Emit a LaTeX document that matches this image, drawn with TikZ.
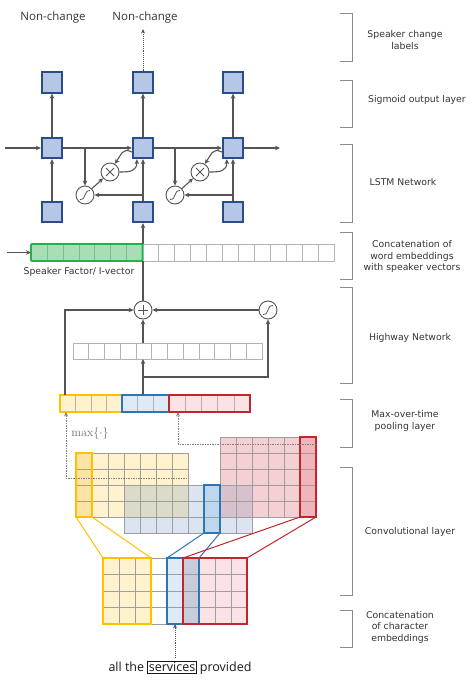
\documentclass[tikz,border=0pt]{standalone}
\usepackage[no-math]{fontspec}
\setmainfont{DejaVu Sans}
\newfontfamily\topfont{Open Sans}
\usetikzlibrary{arrows.meta,calc}
\definecolor{sqfill}{HTML}{B4C7E7}
\definecolor{sqdraw}{HTML}{2B4C86}
\definecolor{arr}{HTML}{555555}
\definecolor{ybord}{HTML}{FFC000}
\definecolor{yfill}{HTML}{FFF2CC}
\definecolor{ydeep}{HTML}{FDE3A6}
\definecolor{bbord}{HTML}{2E75B6}
\definecolor{bfill}{HTML}{DDEBF7}
\definecolor{bconv}{HTML}{DCE4F2}
\definecolor{bdeep}{HTML}{BDD7EE}
\definecolor{rbord}{HTML}{C0262D}
\definecolor{rfill}{HTML}{FBE3E5}
\definecolor{rconv}{HTML}{F4CFD3}
\definecolor{rdeep}{HTML}{EFB5BB}
\definecolor{gbord}{HTML}{22B14C}
\definecolor{gfill}{HTML}{A8DDB5}
\definecolor{gcell}{HTML}{74C08A}
\definecolor{gridc}{HTML}{9E9E9E}
\definecolor{lcell}{HTML}{B3B3B3}
\definecolor{brk}{HTML}{8C8C8C}
\definecolor{txt}{HTML}{333333}
\definecolor{ybov}{HTML}{DADBC8}
\definecolor{rbov}{HTML}{D7C1CC}
\definecolor{embov}{HTML}{C8CCDA}
\begin{document}
\begin{tikzpicture}[x=1pt,y=-1pt,
  sq/.style={draw=sqdraw,fill=sqfill,line width=1.8pt,minimum size=20.5pt,inner sep=0pt},
  op/.style={circle,draw=arr,fill=white,line width=0.9pt,minimum size=18pt,inner sep=0pt},
  sig/.style={op,path picture={\draw[arr,line width=0.8pt]
     ([shift={(-5pt,-4.5pt)}]path picture bounding box.center) .. controls +(7pt,0pt) and +(-7pt,0pt) ..
     ([shift={(5pt,4.5pt)}]path picture bounding box.center);}},
  tms/.style={op,path picture={\draw[arr,line width=0.8pt]
     ([shift={(-4pt,-4pt)}]path picture bounding box.center) -- ([shift={(4pt,4pt)}]path picture bounding box.center)
     ([shift={(-4pt,4pt)}]path picture bounding box.center) -- ([shift={(4pt,-4pt)}]path picture bounding box.center);}},
  pls/.style={op,path picture={\draw[arr,line width=0.8pt]
     ([shift={(-5pt,0pt)}]path picture bounding box.center) -- ([shift={(5pt,0pt)}]path picture bounding box.center)
     ([shift={(0pt,-5pt)}]path picture bounding box.center) -- ([shift={(0pt,5pt)}]path picture bounding box.center);}},
  ar/.style={draw=arr,line width=1.1pt,-{Stealth[length=5pt,width=4.6pt]}},
  ln/.style={draw=arr,line width=1.1pt},
  dar/.style={draw=gray,line width=0.7pt,dash pattern=on 1.5pt off 1pt,-{Stealth[length=4.5pt,width=4pt]}},
  dotar/.style={draw=arr,line width=0.9pt,dash pattern=on 0.9pt off 1pt,-{Stealth[length=4.5pt,width=4pt]}},
  brack/.style={draw=brk,line width=0.9pt},
  lay/.style={font=\fontsize{9.3}{11.5}\selectfont,text=txt,align=center},
  toplbl/.style={font=\topfont\fontsize{11.5}{13}\selectfont,text=txt},
  cell/.style={draw=gridc,line width=0.6pt},
  lcellst/.style={draw=lcell,line width=0.6pt},
  box/.style={inner sep=0pt,outer sep=0pt},
]
\useasboundingbox (0,0) rectangle (474,686);

% ---------------- LSTM ----------------
\node[toplbl] (nc1) at (53,18) {Non-change};
\node[toplbl] (nc2) at (145,18) {Non-change};
\foreach \n/\x in {1/52,2/143,3/233}{
  \node[sq] (t\n) at (\x,82.5) {};
  \node[sq] (m\n) at (\x,148) {};
  \node[sq] (b\n) at (\x,212) {};
  \draw[ar] (b\n.north) -- (m\n.south);
  \draw[ar] (m\n.north) -- (t\n.south);
}
\coordinate (topend) at (143,29);
\draw[dotar] (t2.north) -- (topend);
\coordinate (hin) at (5,148);
\coordinate (hout) at (280,148);
\draw[ar] (hin) -- (m1.west);
\draw[ar] (m1.east) -- (m2.west);
\draw[ar] (m2.east) -- (m3.west);
\draw[ar] (m3.east) -- (hout);

\foreach \k/\sx/\tx/\nm in {1/85/110/m2,2/175/200/m3}{
  \node[sig] (s\k) at (\sx,195) {};
  \node[tms] (x\k) at (\tx,172) {};
  \coordinate (d\k) at (\sx,148);
  \draw[ar] (d\k) -- (s\k.north);
  \draw[ar] (s\k) -- (x\k);
  \draw[ar] (\nm |- s\k.east) -- (s\k.east);
  \draw[ar] (x\k.east) .. controls +(11,0) and +(0,12) .. ([xshift=5pt]\nm.south west);
  \draw[ar] ([yshift=-4pt]\nm.west) .. controls +(-10,-5) and +(6,-8) .. (x\k.60);
}

% ---------------- concatenation bar ----------------
\foreach \i in {7,...,18} \draw[lcellst] ({31+\i*15.947},244) rectangle ++(15.947,17);
\foreach \i in {0,...,6} \draw[draw=gcell,fill=gfill,line width=0.6pt] ({31+\i*15.947},244) rectangle ++(15.947,17);
\node[box,minimum width=303pt,minimum height=17pt] (cb) at (182.5,252.5) {};
\node[box,draw=gbord,line width=1.8pt,rounded corners=1pt,minimum width=111.6pt,minimum height=17pt] (gb) at (86.8,252.5) {};
\coordinate (gin) at (7,252.5);
\draw[ar] (gin) -- (gb.west);
\node[lay] (spk) at (79,271.5) {Speaker Factor/ I-vector};
\draw[ar] (b2 |- cb.north) -- (b2.south);

% ---------------- highway ----------------
\node[pls] (pl) at (143,310) {};
\node[sig] (hs) at (268,310) {};
\foreach \i in {0,...,11} \draw[lcellst] ({73+\i*15.75},343) rectangle ++(15.75,16);
\node[box,minimum width=189pt,minimum height=16pt] (hw) at (167.5,351) {};
\draw[ln] (pl.north) -- (pl |- cb.south);
\draw[ar] (pl |- hw.north) -- (pl.south);
\draw[ar] (hs.west) -- (pl.east);

% ---------------- pooling bar ----------------
\foreach \i in {0,...,3} \draw[lcellst,fill=yfill] ({60+\i*15.5},395) rectangle ++(15.5,17);
\foreach \i in {0,...,2} \draw[lcellst,fill=bfill] ({122+\i*15.667},395) rectangle ++(15.667,17);
\foreach \i in {0,...,4} \draw[lcellst,fill=rfill] ({169+\i*16.2},395) rectangle ++(16.2,17);
\node[box,draw=ybord,line width=1.6pt,minimum width=62pt,minimum height=17pt] (py) at (91,403.5) {};
\node[box,draw=bbord,line width=1.6pt,minimum width=47pt,minimum height=17pt] (pb) at (145.5,403.5) {};
\node[box,draw=rbord,line width=1.6pt,minimum width=81pt,minimum height=17pt] (pr) at (209.5,403.5) {};
\coordinate (pyl) at (65,395);
\draw[ar] (pyl) |- (pl.west);
\draw[ar] (pl |- pb.north) -- (pl |- hw.south);
\coordinate (hbr) at (143,377);
\draw[ar] (hbr) -| (hs.south);

% ---------------- convolution ----------------
\fill[yfill] (76,453) rectangle (188,517);
\fill[bconv] (124,485) rectangle (252,533);
\fill[ybov] (124,485) rectangle (188,517);
\fill[rconv] (220,437) rectangle (316,517);
\fill[rbov] (220,485) rectangle (252,517);
\fill[ydeep] (76,453) rectangle (92,517);
\fill[bdeep] (204,485) rectangle (220,533);
\fill[rdeep] (300,437) rectangle (316,517);
\foreach \i in {0,...,6} \foreach \j in {0,...,3} \draw[cell] ({76+16*\i},{453+16*\j}) rectangle ++(16,16);
\foreach \i in {0,...,7} \foreach \j in {0,...,2} \draw[cell] ({124+16*\i},{485+16*\j}) rectangle ++(16,16);
\foreach \i in {0,...,5} \foreach \j in {0,...,4} \draw[cell] ({220+16*\i},{437+16*\j}) rectangle ++(16,16);
\node[box,draw=ybord,line width=1.6pt,minimum width=16pt,minimum height=64pt] (yc) at (84,485) {};
\node[box,draw=bbord,line width=1.6pt,minimum width=16pt,minimum height=48pt] (bc) at (212,509) {};
\node[box,draw=rbord,line width=1.6pt,minimum width=16pt,minimum height=80pt] (rc) at (308,477) {};

\coordinate (ydl) at (187,478);
\coordinate (pyb) at (66,412);
\draw[dar] (ydl) -| (pyb);
\coordinate (rdl) at (316,444);
\coordinate (prb) at (178,412);
\draw[dar] (rdl) -| (prb);
\node[text=gray!85!black,font=\fontsize{11.5}{13}\selectfont] (mx) at (90,433) {$\max\{\cdot\}$};

% ---------------- character embeddings ----------------
\fill[yfill] (103,558) rectangle (151,624);
\fill[bfill] (167,558) rectangle (199,624);
\fill[rfill] (183,558) rectangle (247,624);
\fill[embov] (183,558) rectangle (199,624);
\foreach \i in {0,...,8} \foreach \j in {0,...,3} \draw[cell] ({103+16*\i},{558+16.5*\j}) rectangle ++(16,16.5);
\node[box,draw=ybord,line width=1.6pt,minimum width=48pt,minimum height=66pt] (ye) at (127,591) {};
\node[box,draw=bbord,line width=1.6pt,minimum width=32pt,minimum height=66pt] (be) at (183,591) {};
\node[box,draw=rbord,line width=1.6pt,minimum width=64pt,minimum height=66pt] (re) at (215,591) {};

\draw[ybord,line width=1pt] (yc.south west) -- (ye.north west);
\draw[ybord,line width=1pt] (yc.south east) -- (ye.north east);
\draw[bbord,line width=1pt] (bc.south west) -- (be.north west);
\draw[bbord,line width=1pt] (bc.south east) -- (be.north east);
\draw[rbord,line width=1pt] (rc.south west) -- (re.north west);
\draw[rbord,line width=1pt] (rc.south east) -- (re.north east);

\node[toplbl,font=\topfont\fontsize{12.5}{14}\selectfont,text=black!90] (words) at (180,668)
  {all the {\fboxsep=0.8pt\fboxrule=0.6pt\fbox{services}} provided};
\coordinate (ecol) at (175,624);
\draw[dotar] (ecol |- words.north) -- (ecol);

% ---------------- brackets and labels ----------------
\foreach \a/\b in {13/61,80/127,144/222,232/279,287/383,399/447,467/595,610/647}
  \draw[brack] (340,\a) -- (352,\a) -- (352,\b) -- (340,\b);
\node[lay] (l1) at (405,40) {Speaker change\\labels};
\node[lay] (l2) at (417,100) {Sigmoid output layer};
\node[lay] (l3) at (403,182) {LSTM Network};
\node[lay] (l4) at (412,256.5) {Concatenation of\\word embeddings\\with speaker vectors};
\node[lay] (l5) at (410,338) {Highway Network};
\node[lay] (l6) at (405,421) {Max-over-time\\pooling layer};
\node[lay] (l7) at (410,532) {Convolutional layer};
\node[lay] (l8) at (400,627) {Concatenation\\of character\\embeddings};
\end{tikzpicture}
\end{document}
